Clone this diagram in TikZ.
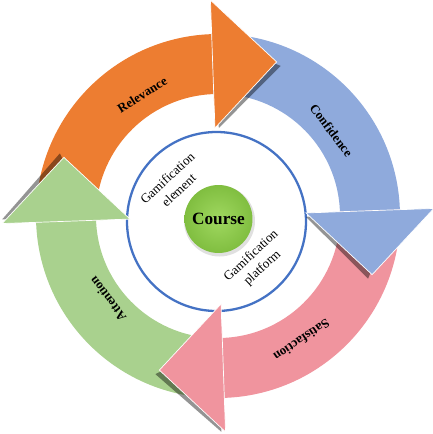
\documentclass[tikz,border=0pt]{standalone}
\usepackage{fontspec}
\setmainfont{Liberation Serif}
\definecolor{relev}{RGB}{237,125,49}
\definecolor{confid}{RGB}{143,170,220}
\definecolor{satisf}{RGB}{240,148,158}
\definecolor{attent}{RGB}{169,209,142}
\definecolor{ringblue}{RGB}{68,114,196}
\definecolor{balllight}{RGB}{160,216,96}
\definecolor{balldark}{RGB}{128,190,64}

\tikzstyle{arclabel}=[font=\bfseries\fontsize{7.3}{8}\selectfont]
\tikzstyle{inlabel}=[font=\fontsize{7.4}{9.4}\selectfont, align=center]
\tikzstyle{head}=[draw=white, line width=0.4pt]
\tikzstyle{headshadow}=[fill=black, opacity=0.42]

\begin{document}
\begin{tikzpicture}[x=0.02cm, y=0.02cm]
            \useasboundingbox (0,0) rectangle (433,434);
            \coordinate (C) at (218,218);
            % ring bodies
            \fill[relev] ([shift={(182:182)}]C) arc[start angle=182, end angle=92, radius=182]
                -- ([shift={(92:122)}]C) arc[start angle=92, end angle=182, radius=122] -- cycle;
            \fill[confid] ([shift={(92:182)}]C) arc[start angle=92, end angle=2, radius=182]
                -- ([shift={(2:122)}]C) arc[start angle=2, end angle=92, radius=122] -- cycle;
            \fill[satisf] ([shift={(2:182)}]C) arc[start angle=2, end angle=-88, radius=182]
                -- ([shift={(-88:122)}]C) arc[start angle=-88, end angle=2, radius=122] -- cycle;
            \fill[attent] ([shift={(272:182)}]C) arc[start angle=272, end angle=182, radius=182]
                -- ([shift={(182:122)}]C) arc[start angle=182, end angle=272, radius=122] -- cycle;
            % inner circle
            \draw[ringblue, line width=1.3pt, fill=white] (216.5,212.5) circle[radius=89.5];
            % arrow heads
            \coordinate (relevTip) at ([shift={(69.17:164.9)}]C);
            \coordinate (confidTip) at ([shift={(-20.83:164.9)}]C);
            \coordinate (satisfTip) at ([shift={(249.17:164.9)}]C);
            \coordinate (attentTip) at ([shift={(159.17:164.9)}]C);
            \coordinate (relevSh) at (222,214);
            \coordinate (confidSh) at (214,214);
            \coordinate (satisfSh) at (214,214);
            \coordinate (attentSh) at (214,222);
            \fill[headshadow] ([shift={(92:92)}]relevSh) -- ([shift={(92:180)}]relevSh) -- ([shift={(69.17:164.9)}]relevSh) -- cycle;
            \fill[headshadow] ([shift={(2:92)}]confidSh) -- ([shift={(2:180)}]confidSh) -- ([shift={(-20.83:164.9)}]confidSh) -- cycle;
            \fill[headshadow] ([shift={(272:124)}]satisfSh) -- ([shift={(272:212)}]satisfSh) -- ([shift={(249.17:164.9)}]satisfSh) -- cycle;
            \fill[headshadow] ([shift={(182:124)}]attentSh) -- ([shift={(182:212)}]attentSh) -- ([shift={(159.17:164.9)}]attentSh) -- cycle;
            \filldraw[head, fill=relev] ([shift={(92:88)}]C) -- ([shift={(92:216)}]C) -- (relevTip) -- cycle;
            \filldraw[head, fill=confid] ([shift={(2:88)}]C) -- ([shift={(2:216)}]C) -- (confidTip) -- cycle;
            \filldraw[head, fill=satisf] ([shift={(272:88)}]C) -- ([shift={(272:216)}]C) -- (satisfTip) -- cycle;
            \filldraw[head, fill=attent] ([shift={(182:88)}]C) -- ([shift={(182:216)}]C) -- (attentTip) -- cycle;
            % labels on the ring
            \node[arclabel, rotate=32] (relevance) at ([shift={(122:143)}]C) {Relevance};
            \node[arclabel, rotate=-53] (confidence) at ([shift={(37:142)}]C) {Confidence};
            \node[arclabel, rotate=-146] (satisfaction) at ([shift={(-56:150)}]C) {Satisfaction};
            \node[arclabel, rotate=127] (attention) at ([shift={(217:138)}]C) {Attention};
            % centre
            \node[inlabel, rotate=43] (element) at (173,250) {Gamification\\element};
            \node[inlabel, rotate=43] (platform) at (257,172) {Gamification\\platform};
            \fill[black, opacity=0.12] (219.5,213) circle[radius=35.5];
            \node[circle, minimum size=1.36cm, inner sep=0pt, inner color=balllight, outer color=balldark,
                font=\bfseries\fontsize{9.8}{11}\selectfont] (course) at (218.5,215) {Course};
        \end{tikzpicture}
\end{document}
